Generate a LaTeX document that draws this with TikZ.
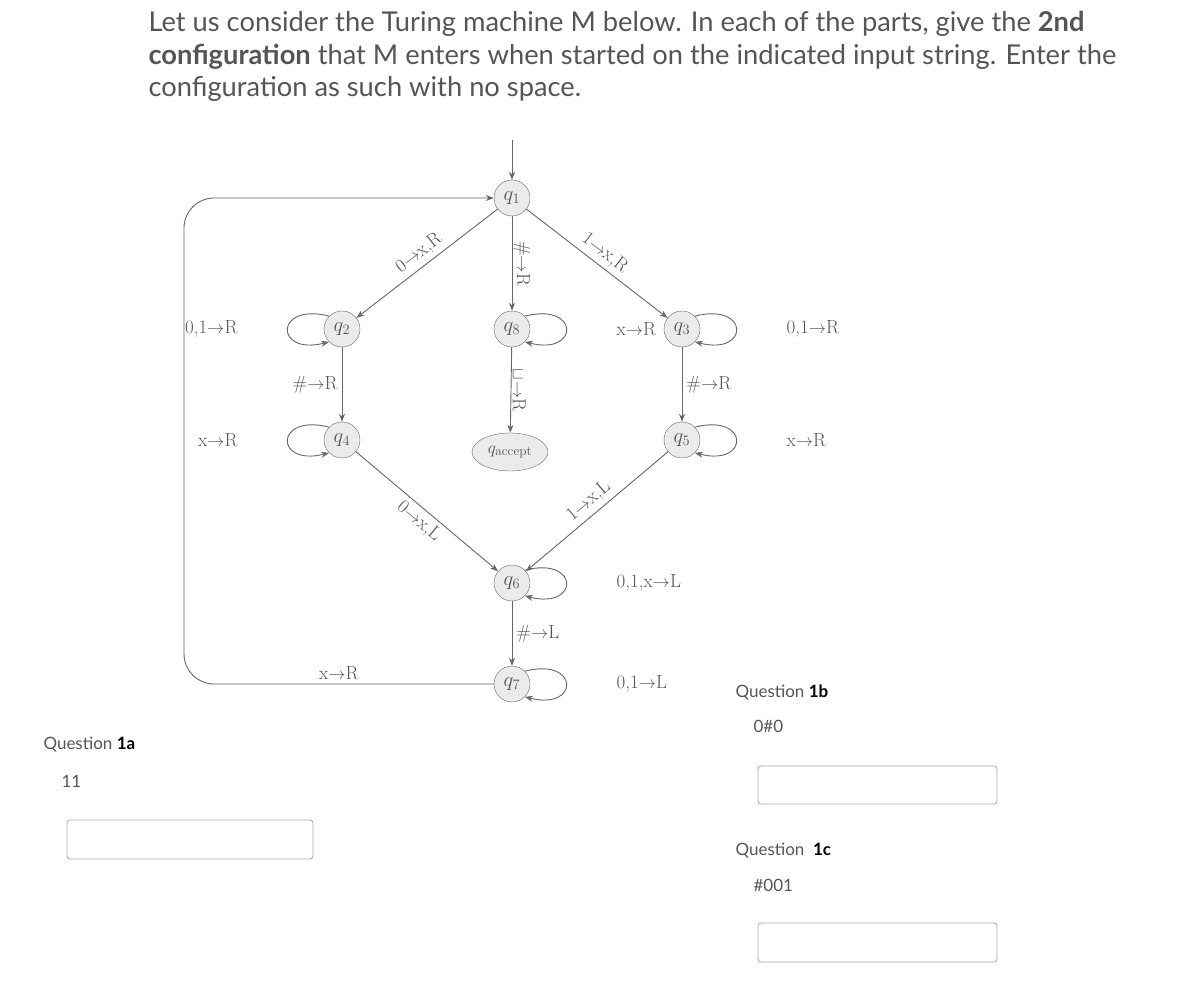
\documentclass[tikz,border=0pt]{standalone}
\usepackage{fontspec}
\newfontfamily\lato{Lato}
\usetikzlibrary{arrows.meta,shapes.geometric}
\definecolor{txt}{HTML}{555555}
\definecolor{ln}{HTML}{666666}
\definecolor{fl}{HTML}{EBEBEB}
\begin{document}
\begin{tikzpicture}[x=1pt,y=-1pt,
  st/.style={circle,draw=ln,fill=fl,minimum size=36pt,inner sep=0pt,font=\fontsize{20}{20}\selectfont,text=txt},
  ed/.style={draw=ln,line width=0.9pt,-{Stealth[length=8pt,width=6pt]}},
  lb/.style={font=\fontsize{19}{19}\selectfont,text=txt,inner sep=4pt},
  ql/.style={font=\lato\fontsize{17}{20}\selectfont,text=txt,anchor=west},
  ib/.style={draw=gray!70,rounded corners=3pt,line width=0.8pt},
  rloop/.style={to path={(\tikztostart.45) .. controls +(55,-14) and +(55,14) .. (\tikztotarget.-45) \tikztonodes}},
  lloop/.style={to path={(\tikztostart.135) .. controls +(-55,-14) and +(-55,14) .. (\tikztotarget.-135) \tikztonodes}}]
\useasboundingbox (0,0) rectangle (1186,981);
\node[font=\lato\fontsize{27.3}{32.5}\selectfont,text=txt,anchor=north west,align=left] (title) at (145,8)
 {Let us consider the Turing machine M below. In each of the parts, give the \textbf{2nd}\\
 \textbf{configuration} that M enters when started on the indicated input string. Enter the\\
 configuration as such with no space.};
\node[st] (q1) at (512,198) {$q_1$};
\node[st] (q2) at (342,329) {$q_2$};
\node[st] (q8) at (512,329) {$q_8$};
\node[st] (q3) at (682,329) {$q_3$};
\node[st] (q4) at (342,440) {$q_4$};
\node[ellipse,draw=ln,fill=fl,minimum width=76pt,minimum height=38pt,inner sep=0pt,text=txt,font=\fontsize{19}{19}\selectfont] (qa) at (510,452) {$q_{\mathrm{accept}}$};
\node[st] (q5) at (682,440) {$q_5$};
\node[st] (q6) at (512,583) {$q_6$};
\node[st] (q7) at (512,684) {$q_7$};
\coordinate (start) at (512,140);
\draw[ed] (start) -- (q1);
\draw[ed] (q1) -- node[lb,sloped,above]{0$\rightarrow$x,R} (q2);
\draw[ed] (q1) -- node[lb,rotate=-90,anchor=south,inner sep=1pt]{\#$\rightarrow$R} (q8);
\draw[ed] (q1) -- node[lb,sloped,above]{1$\rightarrow$x,R} (q3);
\draw[ed] (q2) -- node[lb,left]{\#$\rightarrow$R} (q4);
\draw[ed] (q3) -- node[lb,right]{\#$\rightarrow$R} (q5);
\draw[ed] (q8) -- node[lb,rotate=-90,anchor=south,inner sep=1pt]{$\sqcup\!\rightarrow$R} (qa);
\draw[ed] (q4) -- node[lb,sloped,below]{0$\rightarrow$x,L} (q6);
\draw[ed] (q5) -- node[lb,sloped,above]{1$\rightarrow$x,L} (q6);
\draw[ed] (q6) -- node[lb,right]{\#$\rightarrow$L} (q7);
\draw[ed] (q8) to[rloop] node[lb,right,xshift=46pt]{x$\rightarrow$R} (q8);
\draw[ed] (q3) to[rloop] node[lb,right,xshift=46pt]{0,1$\rightarrow$R} (q3);
\draw[ed] (q5) to[rloop] node[lb,right,xshift=46pt]{x$\rightarrow$R} (q5);
\draw[ed] (q6) to[rloop] node[lb,right,xshift=46pt]{0,1,x$\rightarrow$L} (q6);
\draw[ed] (q7) to[rloop] node[lb,right,xshift=46pt]{0,1$\rightarrow$L} (q7);
\draw[ed] (q2) to[lloop] node[lb,left,xshift=-46pt]{0,1$\rightarrow$R} (q2);
\draw[ed] (q4) to[lloop] node[lb,left,xshift=-46pt]{x$\rightarrow$R} (q4);
\draw[ed,rounded corners=30pt] (q7.west) -- node[lb,above,pos=0.5]{x$\rightarrow$R} (184,684) -- (184,198) -- (q1.west);
% questions
\node[ql] (qa1) at (40,745) {Question \textbf{\color{black}1a}};
\node[ql] (a1) at (58,781) {11};
\draw[ib] (67,820) rectangle (313,859);
\node[ql] (qb1) at (732,692) {Question \textbf{\color{black}1b}};
\node[ql] (b1) at (750,726) {0\#0};
\draw[ib] (758,766) rectangle (997,804);
\node[ql] (qc1) at (732,851) {Question \ \textbf{\color{black}1c}};
\node[ql] (c1) at (750,885) {\#001};
\draw[ib] (758,923) rectangle (997,962);
\end{tikzpicture}
\end{document}
